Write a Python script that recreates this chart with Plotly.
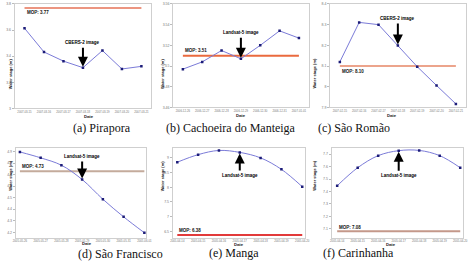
import plotly.graph_objects as go

# ---------------- data ----------------
dates_pirapora = ["2007-03-15", "2007-03-16", "2007-03-17", "2007-03-18", "2007-03-19", "2007-03-20", "2007-03-21"]
stage_pirapora = [3.614, 3.432, 3.362, 3.312, 3.443, 3.302, 3.322]
mop_pirapora = 3.77

dates_cachoeira = ["2006-12-26", "2006-12-27", "2006-12-28", "2006-12-29", "2006-12-30", "2006-12-31", "2007-01-01"]
stage_cachoeira = [3.497, 3.504, 3.515, 3.507, 3.520, 3.534, 3.527]
mop_cachoeira = 3.51

dates_saoromao = ["2007-02-15", "2007-02-16", "2007-02-17", "2007-02-18", "2007-02-19", "2007-02-20", "2007-02-21"]
stage_saoromao = [8.120, 8.311, 8.300, 8.199, 8.097, 8.006, 7.917]
mop_saoromao = 8.10

dates_saofrancisco = ["2005-05-26", "2005-05-27", "2005-05-28", "2005-05-29", "2005-05-30", "2005-05-31", "2005-06-01"]
stage_saofrancisco = [4.897, 4.846, 4.782, 4.658, 4.487, 4.334, 4.196]
mop_saofrancisco = 4.73

dates_manga = ["2005-04-14", "2005-04-15", "2005-04-16", "2005-04-17", "2005-04-18", "2005-04-19", "2005-04-20"]
stage_manga = [8.853, 9.11, 9.253, 9.187, 9.0, 8.61, 8.02]
mop_manga = 6.38

dates_carinhanha = ["2005-04-14", "2005-04-15", "2005-04-16", "2005-04-17", "2005-04-18", "2005-04-19", "2005-04-20"]
stage_carinhanha = [7.446, 7.591, 7.688, 7.728, 7.730, 7.688, 7.591]
mop_carinhanha = 7.08

captions = ["(a) Pirapora", "(b) Cachoeira do Manteiga", "(c) São Romão",
            "(d) São Francisco", "(e) Manga", "(f) Carinhanha"]
image_labels = ["CBERS-2 image", "Landsat-5 image", "CBERS-2 image",
                "Landsat-5 image", "Landsat-5 image", "Landsat-5 image"]
image_index = [3, 3, 3, 3, 3, 3]
y_ticks = [
    [3.0, 3.2, 3.4, 3.6, 3.8],
    [3.46, 3.48, 3.50, 3.52, 3.54, 3.56],
    [7.9, 8.0, 8.1, 8.2, 8.3, 8.4],
    [4.2, 4.3, 4.4, 4.5, 4.6, 4.7, 4.8, 4.9],
    [6.5, 7.0, 7.5, 8.0, 8.5, 9.0],
    [7.1, 7.2, 7.3, 7.4, 7.5, 7.6, 7.7],
]

dates = [dates_pirapora, dates_cachoeira, dates_saoromao, dates_saofrancisco, dates_manga, dates_carinhanha]
stages = [stage_pirapora, stage_cachoeira, stage_saoromao, stage_saofrancisco, stage_manga, stage_carinhanha]
mops = [mop_pirapora, mop_cachoeira, mop_saoromao, mop_saofrancisco, mop_manga, mop_carinhanha]

# ---------------- layout / style ----------------
W, H = 474, 269
# pixel boxes (x0, x1, y0, y1), x ranges, y ranges
boxes = [(12, 151, 2, 108), (173.5, 311.5, 2, 107), (333.5, 471.5, 2, 107),
         (13, 146, 148, 239.5), (173, 308, 148, 239.5), (335, 469, 148, 239.5)]
xranges = [[-0.5, 6.5], [-0.5, 6.5], [-0.5, 6.5],
           [-0.2, 6.09], [-0.22, 6.14], [-0.27, 6.14]]
yranges = [[3.0, 3.8], [3.46, 3.56], [7.9, 8.4],
           [4.151, 4.933], [6.277, 9.343], [7.027, 7.751]]
mop_colors = ["#ec9580", "#ea6a3e", "#eca48c", "#c4ab9c", "#e23a3a", "#c4988a"]
mop_yshift = [-5, 5, -5, 5, 4, 4]
arrow_ay = [-25, -26, -27, -23, 23, 25]
shapes_line = ["linear", "linear", "linear", "spline", "spline", "spline"]
caption_pos = [(70, 128), (232, 128), (395, 128), (75, 263.5), (235, 263), (400, 263)]
ytitle_x = [3, 162, 322, 3, 162, 322]
date_gap = [8, 8, 8, 9.5, 10, 10]

fig = go.Figure()
layout = dict(width=W, height=H, margin=dict(l=0, r=0, t=0, b=0),
              paper_bgcolor="white", plot_bgcolor="white", showlegend=False,
              font=dict(family="Liberation Sans", color="#222"))
annotations = []

for i in range(6):
    n = i + 1
    xa = "x" if n == 1 else f"x{n}"
    ya = "y" if n == 1 else f"y{n}"
    x0, x1, y0, y1 = boxes[i]
    idx = list(range(len(dates[i])))
    layout["xaxis" if n == 1 else f"xaxis{n}"] = dict(
        domain=[x0 / W, x1 / W], anchor=ya, range=xranges[i],
        tickvals=idx, ticktext=dates[i], tickangle=0,
        tickfont=dict(size=2.8, color="#777"), showgrid=False, zeroline=False,
        showline=True, mirror=True, linecolor="#cfcfcf", linewidth=1,
        ticks="", ticklabelstandoff=0)
    layout["yaxis" if n == 1 else f"yaxis{n}"] = dict(
        domain=[1 - y1 / H, 1 - y0 / H], anchor=xa, range=yranges[i],
        tickvals=y_ticks[i], tickfont=dict(size=3.5, color="#777"),
        showgrid=False, zeroline=False,
        showline=True, mirror=True, linecolor="#cfcfcf", linewidth=1,
        ticks="outside", ticklen=2, tickcolor="#bbb")

    # MOP line
    fig.add_trace(go.Scatter(x=[idx[0], idx[-1]], y=[mops[i], mops[i]], mode="lines",
                             line=dict(color=mop_colors[i], width=2),
                             xaxis=xa, yaxis=ya, hoverinfo="skip"))
    # water stage series
    fig.add_trace(go.Scatter(x=idx, y=stages[i], mode="lines+markers",
                             line=dict(color="#7b7bd8", width=1, shape=shapes_line[i]),
                             marker=dict(symbol="square", size=2.5, color="#1c1c78"),
                             xaxis=xa, yaxis=ya))
    # MOP label
    annotations.append(dict(x=idx[0], y=mops[i], xref=xa, yref=ya,
                            text=f"<b>MOP: {mops[i]:.2f}</b>", showarrow=False,
                            xanchor="left", yanchor="middle", yshift=mop_yshift[i],
                            font=dict(size=4.5, color="#111")))
    # image arrow
    k = image_index[i]
    annotations.append(dict(x=idx[k], y=stages[i][k], xref=xa, yref=ya,
                            text=f"<b>{image_labels[i]}</b>", showarrow=True,
                            arrowhead=2, arrowsize=1, arrowwidth=2, arrowcolor="#000",
                            ax=0, ay=arrow_ay[i], standoff=1, startstandoff=1,
                            font=dict(size=4.5, color="#000")))
    # axis titles
    annotations.append(dict(x=(x0 + x1) / 2 / W, y=1 - (y1 + date_gap[i]) / H,
                            xref="paper", yref="paper",
                            text="<b>Date</b>", showarrow=False, borderpad=0,
                            font=dict(size=4.2, color="#222")))
    annotations.append(dict(x=ytitle_x[i] / W, y=1 - (y0 + y1) / 2 / H, xref="paper", yref="paper",
                            text="<b>Water stage (m)</b>", showarrow=False, textangle=-90,
                            font=dict(size=4, color="#222")))
    # caption
    cx, cy = caption_pos[i]
    annotations.append(dict(x=cx / W, y=1 - cy / H, xref="paper", yref="paper",
                            text=captions[i], showarrow=False, borderpad=0,
                            font=dict(size=12, family="Liberation Serif", color="#111")))

layout["annotations"] = annotations
fig.update_layout(**layout)
fig.write_html("out.html")
